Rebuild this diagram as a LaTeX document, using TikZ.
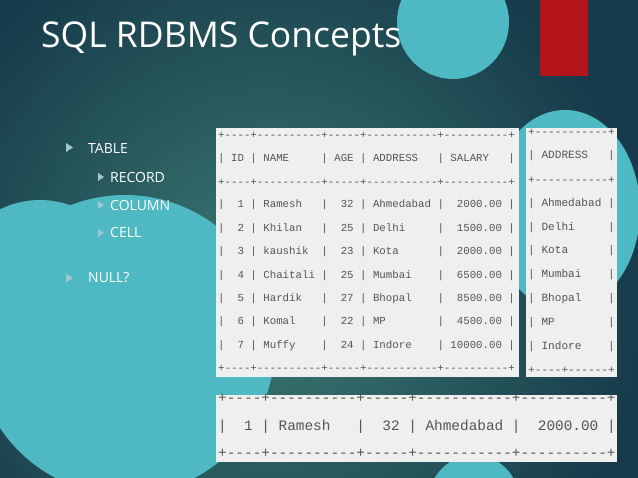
\documentclass[tikz,border=0pt]{standalone}
\usepackage{fontspec}
\setmainfont{Open Sans}
\setmonofont{Liberation Mono}
\definecolor{bgin}{HTML}{3C7B72}
\definecolor{bgout}{HTML}{163A4A}
\definecolor{blob}{HTML}{4EB8C3}
\definecolor{redbar}{HTML}{B2141A}
\definecolor{panel}{HTML}{EFEFEF}
\definecolor{mono}{HTML}{555555}
\definecolor{bul}{HTML}{9EC9D0}
\begin{document}
\begin{tikzpicture}[x=1pt,y=-1pt,
  tline/.style={anchor=west,inner sep=0pt,text=mono,font=\fontsize{10.75}{12}\ttfamily},
  tlinetwo/.style={anchor=west,inner sep=0pt,text=mono,font=\fontsize{11.1}{12}\ttfamily},
  tlinebig/.style={anchor=west,inner sep=0pt,text=mono,font=\fontsize{14.4}{16}\ttfamily},
  bulltxt/.style={anchor=west,inner sep=0pt,text=white,font=\fontsize{14}{16}\selectfont},
  bullmark/.style={fill=bul,draw=none}]
\useasboundingbox (0,0) rectangle (638,478);
\begin{scope}
\clip (0,0) rectangle (638,478);
\fill[bgout] (0,0) rectangle (638,478);
\shade[inner color=bgin,outer color=bgout] (270,290) circle[radius=380];
\fill[blob] (453,22) ellipse[x radius=56,y radius=57];
\fill[blob] (565,210) ellipse[x radius=75,y radius=100];
\fill[blob] (125,345) circle[radius=150];
\fill[blob] (40,290) circle[radius=90];
\fill[blob] (474,500) circle[radius=45];
\end{scope}
\fill[redbar] (540,0) rectangle (588,76);
\node[anchor=base west,inner sep=0pt,text=white,font=\fontsize{35.5}{40}\selectfont] (title) at (41,48) {SQL RDBMS Concepts};
% bullets
\fill[bullmark] (66,143) -- (73,147.5) -- (66,152) -- cycle;
\node[bulltxt] (b1) at (88,148) {TABLE};
\fill[bullmark] (98,173) -- (104,177) -- (98,181) -- cycle;
\node[bulltxt] (b2) at (110,177) {RECORD};
\fill[bullmark] (98,201) -- (104,205) -- (98,209) -- cycle;
\node[bulltxt] (b3) at (110,205) {COLUMN};
\fill[bullmark] (98,229) -- (104,233) -- (98,237) -- cycle;
\node[bulltxt] (b4) at (110,233) {CELL};
\fill[bullmark] (66,273.5) -- (73,278) -- (66,282.5) -- cycle;
\node[bulltxt] (b5) at (88,278) {NULL?};
% panels
\fill[panel] (216,128) rectangle (519,377);
\fill[panel] (526,128) rectangle (617,377);
\fill[panel] (216,395) rectangle (617,462);
% table 1
\node[tline] (t1a) at (218,135) {+----+----------+-----+-----------+----------+};
\node[tline] (t1b) at (218,159) {|~ID~|~NAME~~~~~|~AGE~|~ADDRESS~~~|~SALARY~~~|};
\node[tline] (t1c) at (218,182) {+----+----------+-----+-----------+----------+};
\node[tline] (t1d) at (218,205) {|~~1~|~Ramesh~~~|~~32~|~Ahmedabad~|~~2000.00~|};
\node[tline] (t1e) at (218,229) {|~~2~|~Khilan~~~|~~25~|~Delhi~~~~~|~~1500.00~|};
\node[tline] (t1f) at (218,252) {|~~3~|~kaushik~~|~~23~|~Kota~~~~~~|~~2000.00~|};
\node[tline] (t1g) at (218,276) {|~~4~|~Chaitali~|~~25~|~Mumbai~~~~|~~6500.00~|};
\node[tline] (t1h) at (218,299) {|~~5~|~Hardik~~~|~~27~|~Bhopal~~~~|~~8500.00~|};
\node[tline] (t1i) at (218,322) {|~~6~|~Komal~~~~|~~22~|~MP~~~~~~~~|~~4500.00~|};
\node[tline] (t1j) at (218,346) {|~~7~|~Muffy~~~~|~~24~|~Indore~~~~|~10000.00~|};
\node[tline] (t1k) at (218,368) {+----+----------+-----+-----------+----------+};
% table 2
\node[tlinetwo] (t2a) at (528,132) {+-----------+};
\node[tlinetwo] (t2b) at (528,156) {|~ADDRESS~~~|};
\node[tlinetwo] (t2c) at (528,180) {+-----------+};
\node[tlinetwo] (t2d) at (528,204) {|~Ahmedabad~|};
\node[tlinetwo] (t2e) at (528,228) {|~Delhi~~~~~|};
\node[tlinetwo] (t2f) at (528,251) {|~Kota~~~~~~|};
\node[tlinetwo] (t2g) at (528,275) {|~Mumbai~~~~|};
\node[tlinetwo] (t2h) at (528,299) {|~Bhopal~~~~|};
\node[tlinetwo] (t2i) at (528,323) {|~MP~~~~~~~~|};
\node[tlinetwo] (t2j) at (528,347) {|~Indore~~~~|};
\node[tlinetwo] (t2k) at (528,370) {+----+------+};
% table 3
\node[tlinebig] (t3a) at (218,398) {+----+----------+-----+-----------+----------+};
\node[tlinebig] (t3b) at (218,427) {|~~1~|~Ramesh~~~|~~32~|~Ahmedabad~|~~2000.00~|};
\node[tlinebig] (t3c) at (218,453) {+----+----------+-----+-----------+----------+};
\end{tikzpicture}
\end{document}
